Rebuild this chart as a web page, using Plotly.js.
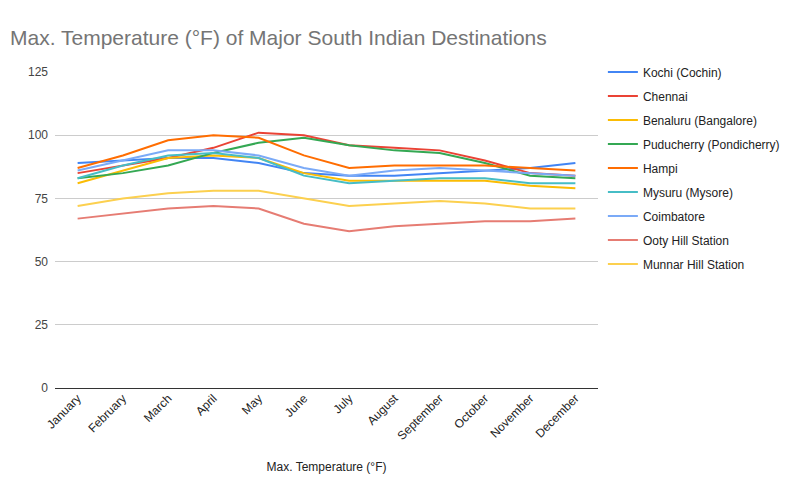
<!DOCTYPE html>
<html>
<head>
<meta charset="utf-8">
<script src="https://cdn.plot.ly/plotly-3.0.1.min.js"></script>
<style>html,body{margin:0;padding:0;background:#fff;}#chart{width:808px;height:499px;}</style>
</head>
<body>
<div id="chart"></div>
<script>
const months = ["January","February","March","April","May","June","July","August","September","October","November","December"];
const kochi      = [89, 90, 91, 91, 89, 85, 84, 84, 85, 86, 87, 89];
const chennai    = [85, 88, 91, 95, 101, 100, 96, 95, 94, 90, 85, 84];
const bengaluru  = [81, 86, 91, 92, 91, 85, 82, 82, 82, 82, 80, 79];
const puducherry = [83, 85, 88, 93, 97, 99, 96, 94, 93, 89, 84, 83];
const hampi      = [87, 92, 98, 100, 99, 92, 87, 88, 88, 88, 87, 86];
const mysuru     = [83, 88, 92, 93, 91, 84, 81, 82, 83, 83, 81, 81];
const coimbatore = [86, 90, 94, 94, 92, 87, 84, 86, 87, 86, 85, 84];
const ooty       = [67, 69, 71, 72, 71, 65, 62, 64, 65, 66, 66, 67];
const munnar     = [72, 75, 77, 78, 78, 75, 72, 73, 74, 73, 71, 71];

const seriesNames = ["Kochi (Cochin)","Chennai","Benaluru (Bangalore)","Puducherry (Pondicherry)","Hampi","Mysuru (Mysore)","Coimbatore","Ooty Hill Station","Munnar Hill Station"];
const seriesValues = [kochi, chennai, bengaluru, puducherry, hampi, mysuru, coimbatore, ooty, munnar];
const colors = ["#4285F4","#EA4335","#FBBC04","#34A853","#FF6D01","#46BDC6","#7BAAF7","#E67C73","#FCD04F"];
const yTicks = [0, 25, 50, 75, 100, 125];

const FONT = "Arial, 'Liberation Sans', sans-serif";

const traces = seriesNames.map((n, i) => ({
  type: "scatter",
  mode: "lines",
  name: n,
  x: months,
  y: seriesValues[i],
  legendgroup: "g" + i,
  line: {color: colors[i], width: 2},
  hoverinfo: "x+y+name"
}));

const layout = {
  width: 808,
  height: 499,
  paper_bgcolor: "#ffffff",
  plot_bgcolor: "#ffffff",
  margin: {l: 55, r: 210, t: 72, b: 111},
  font: {family: FONT, size: 12, color: "#222222"},
  title: {
    text: "Max. Temperature (°F) of Major South Indian Destinations",
    font: {family: FONT, size: 21, color: "#757575"},
    x: 0.0124, xanchor: "left", xref: "container",
    y: 0.924, yanchor: "middle", yref: "container"
  },
  xaxis: {
    type: "category",
    range: [-0.5, 11.5],
    tickangle: -45,
    showgrid: false,
    showline: false,
    zeroline: false,
    ticks: "",
    tickfont: {family: FONT, size: 12, color: "#222222"},
    title: {text: "Max. Temperature (°F)", font: {family: FONT, size: 12, color: "#222222"}, standoff: 20},
    fixedrange: true
  },
  yaxis: {
    range: [0, 125],
    tickvals: yTicks,
    ticktext: yTicks.map(String),
    showgrid: true,
    gridcolor: "#cccccc",
    gridwidth: 1,
    zeroline: true,
    zerolinecolor: "#333333",
    zerolinewidth: 1,
    ticks: "",
    ticklabelstandoff: 6,
    tickfont: {family: FONT, size: 12, color: "#444444"},
    fixedrange: true
  },
  legend: {
    x: 1.009, xanchor: "left",
    y: 1.046, yanchor: "top",
    font: {family: FONT, size: 12, color: "#222222"},
    tracegroupgap: 5,
    itemwidth: 30,
    bgcolor: "rgba(0,0,0,0)"
  },
  showlegend: true
};

Plotly.newPlot("chart", traces, layout, {displayModeBar: false, staticPlot: true});
</script>
</body>
</html>
